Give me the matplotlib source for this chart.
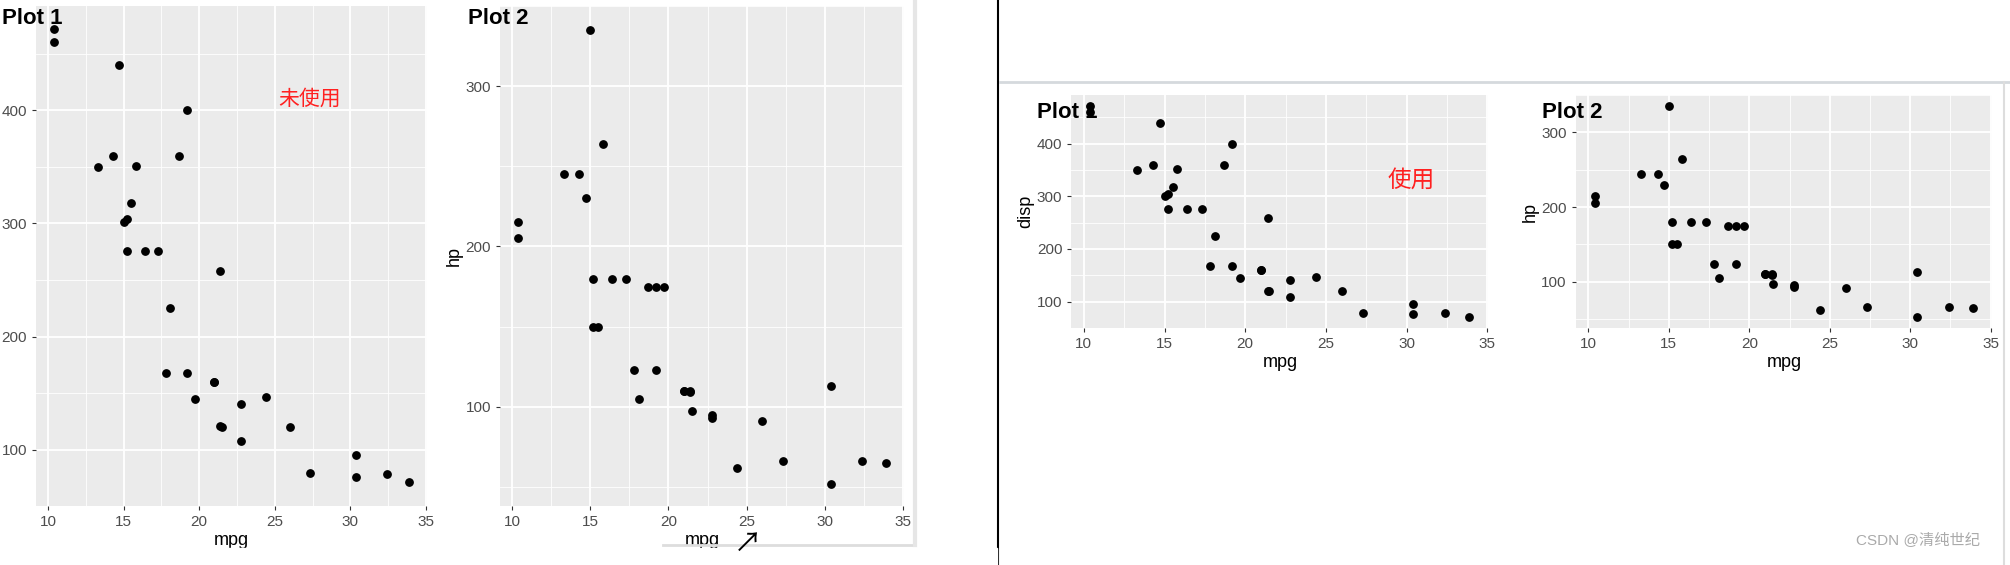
import matplotlib
matplotlib.use("Agg")
import matplotlib.pyplot as plt
from matplotlib.patches import Rectangle
import numpy as np

plt.rcParams['font.family'] = ['Liberation Sans', 'Noto Sans CJK SC', 'DejaVu Sans']

# mtcars columns
mpg = [21, 21, 22.8, 21.4, 18.7, 18.1, 14.3, 24.4, 22.8, 19.2, 17.8, 16.4, 17.3, 15.2, 10.4, 10.4,
       14.7, 32.4, 30.4, 33.9, 21.5, 15.5, 15.2, 13.3, 19.2, 27.3, 26, 30.4, 15.8, 19.7, 15, 21.4]
disp = [160, 160, 108, 258, 360, 225, 360, 146.7, 140.8, 167.6, 167.6, 275.8, 275.8, 275.8, 472, 460,
        440, 78.7, 75.7, 71.1, 120.1, 318, 304, 350, 400, 79, 120.3, 95.1, 351, 145, 301, 121]
hp = [110, 110, 93, 110, 175, 105, 245, 62, 95, 123, 123, 180, 180, 180, 205, 215,
      230, 66, 52, 65, 97, 150, 150, 245, 175, 66, 91, 113, 264, 175, 335, 109]
x_ticks = [10, 15, 20, 25, 30, 35]
disp_ticks = [100, 200, 300, 400]
hp_ticks = [100, 200, 300]

W, H = 2010, 565
fig = plt.figure(figsize=(W / 100, H / 100), dpi=100)


def lim(v):
    lo, hi = min(v), max(v)
    e = (hi - lo) * 0.05
    return lo - e, hi + e


def gg(rect, y, yticks, ylabel, title, fs=10):
    ax = fig.add_axes(rect)
    ax.set_facecolor('#EBEBEB')
    ax.set_xlim(lim(mpg))
    ax.set_ylim(lim(y))
    ax.set_xticks(x_ticks)
    ax.set_yticks(yticks)
    mx = [t + 2.5 for t in x_ticks[:-1]]
    my = [t + (yticks[1] - yticks[0]) / 2 for t in [yticks[0] - (yticks[1] - yticks[0])] + yticks]
    ax.set_xticks(mx, minor=True)
    ax.set_yticks(my, minor=True)
    ax.grid(True, which='major', color='white', lw=1.3)
    ax.grid(True, which='minor', color='white', lw=0.6)
    ax.set_axisbelow(True)
    for s in ax.spines.values():
        s.set_visible(False)
    ax.tick_params(which='minor', length=0)
    ax.tick_params(which='major', colors='#333333', labelsize=fs, length=3, color='#333333', labelcolor='#4D4D4D')
    ax.scatter(mpg, y, s=28, color='black', zorder=3)
    ax.set_xlabel('mpg', fontsize=fs + 2, labelpad=2)
    ax.set_ylabel(ylabel, fontsize=fs + 2, labelpad=2)
    fig.text(rect[0] - 0.017, rect[1] + rect[3] - 0.012, title, fontsize=fs + 5, fontweight='bold',
             va='top', ha='left')
    return ax


# left screenshot (cropped)
a1 = gg([0.018, 0.104, 0.1945, 0.885], disp, disp_ticks, '', 'Plot 1', fs=11)
a1.text(27.3, 410, '未使用', color='#FF2020', fontsize=15, ha='center', va='center')
a2 = gg([0.2488, 0.104, 0.201, 0.885], hp, hp_ticks, 'hp', 'Plot 2', fs=11)
fig.texts[-1].set_position((0.233, 0.985))
fig.texts[0].set_position((0.001, 0.985))
# crop the bottom of the left screenshot
fig.patches.append(Rectangle((0, 0), 0.496, 548 / H - 1 + 1 - 548 / H + (H - 548) / H, transform=fig.transFigure,
                             color='white', zorder=10))
fig.patches[-1].set_height((H - 548) / H)
fig.add_artist(plt.Line2D([0.33, 0.455], [1 - 545 / H] * 2, color='#DDDDDD', lw=2, transform=fig.transFigure, zorder=11))
fig.add_artist(plt.Line2D([0.455] * 2, [1 - 545 / H, 1], color='#E6E6E6', lw=3, transform=fig.transFigure, zorder=11))
fig.text(0.372, 0.035, '↗', fontsize=20, ha='center', va='center', zorder=12)

# divider and right screenshot frame
fig.add_artist(plt.Line2D([998 / W] * 2, [0, 1], color='black', lw=1.5, transform=fig.transFigure))
fig.add_artist(plt.Line2D([1000 / W, 1], [1 - 82 / H] * 2, color='#D5D9DD', lw=2, transform=fig.transFigure))
fig.add_artist(plt.Line2D([2004 / W] * 2, [0, 1 - 82 / H], color='#DDDDDD', lw=1.5, transform=fig.transFigure))

b1 = gg([0.533, 0.4195, 0.2075, 0.412], disp, disp_ticks, 'disp', 'Plot 1', fs=11)
b1.text(30.3, 330, '使用', color='#FF2020', fontsize=17, ha='center', va='center')
b2 = gg([0.784, 0.4195, 0.207, 0.412], hp, hp_ticks, 'hp', 'Plot 2', fs=11)

fig.text(0.985, 0.03, 'CSDN @清纯世纪', color='#AAAAAA', fontsize=11, ha='right', va='bottom')

fig.savefig('out.png', dpi=100)
